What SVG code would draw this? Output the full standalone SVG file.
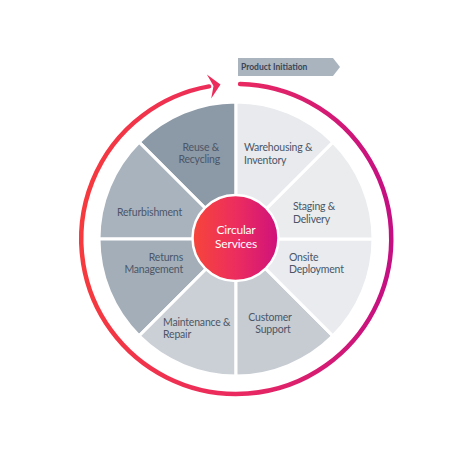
<svg xmlns="http://www.w3.org/2000/svg" width="474" height="474" viewBox="0 0 474 474">
<defs>
<linearGradient id="ringGrad" gradientUnits="userSpaceOnUse" x1="78" y1="0" x2="394" y2="0">
<stop offset="0" stop-color="#f63a3c"/>
<stop offset="0.5" stop-color="#ea2a60"/>
<stop offset="1" stop-color="#c40f83"/>
</linearGradient>
<linearGradient id="hubGrad" gradientUnits="userSpaceOnUse" x1="193" y1="0" x2="279" y2="0">
<stop offset="0" stop-color="#f6453a"/>
<stop offset="0.5" stop-color="#ec2d5e"/>
<stop offset="1" stop-color="#cf117c"/>
</linearGradient>
<style>
.seg{stroke:#ffffff;stroke-width:3;stroke-linejoin:round}
.lbl{font-family:Lato,"Open Sans",sans-serif;font-size:10.5px;letter-spacing:-0.2px;fill:#4b5667}
.hub{font-family:Lato,"Open Sans",sans-serif;font-size:12px;letter-spacing:-0.2px;fill:#ffffff;text-anchor:middle}
.tag{font-family:Lato,"Open Sans",sans-serif;font-size:8.5px;font-weight:bold;fill:#3a4556}
</style>
</defs>
<rect width="474" height="474" fill="#ffffff"/>
<g id="connectors">
<path d="M240.1,84.05 A155,155 0 1 1 209.1,86.4" fill="none" stroke="url(#ringGrad)" stroke-width="4.5" stroke-linecap="round"/>
<polygon points="206.9,74.5 220.5,84.4 211.2,98.5 213.5,86" fill="url(#ringGrad)"/>
</g>
<g id="product-initiation">
<polygon points="238,58 333,58 340,67 333,76 238,76" fill="#aab4bf"/>
<text class="tag" x="241" y="70">Product Initiation</text>
</g>
<g id="reuse-recycling">
<path class="seg" d="M236,239 L236,102 A137,137 0 0 0 139.13,142.13 Z" fill="#8c99a7"/>
<text class="lbl" text-anchor="end" x="219" y="150.5">Reuse &amp;</text>
<text class="lbl" text-anchor="end" x="220" y="163">Recycling</text>
</g>
<g id="refurbishment">
<path class="seg" d="M236,239 L139.13,142.13 A137,137 0 0 0 99,239 Z" fill="#a9b3be"/>
<text class="lbl" text-anchor="end" x="182" y="215.5">Refurbishment</text>
</g>
<g id="returns-management">
<path class="seg" d="M236,239 L99,239 A137,137 0 0 0 139.13,335.87 Z" fill="#a3aeb9"/>
<text class="lbl" text-anchor="end" x="183" y="260.5">Returns</text>
<text class="lbl" text-anchor="end" x="183" y="272.5">Management</text>
</g>
<g id="maintenance-repair">
<path class="seg" d="M236,239 L139.13,335.87 A137,137 0 0 0 236,376 Z" fill="#cbd0d6"/>
<text class="lbl" x="163" y="326">Maintenance &amp;</text>
<text class="lbl" x="163" y="338">Repair</text>
</g>
<g id="customer-support">
<path class="seg" d="M236,239 L236,376 A137,137 0 0 0 332.87,335.87 Z" fill="#c7ccd3"/>
<text class="lbl" text-anchor="middle" x="270" y="321">Customer</text>
<text class="lbl" text-anchor="middle" x="273" y="333">Support</text>
</g>
<g id="onsite-deployment">
<path class="seg" d="M236,239 L332.87,335.87 A137,137 0 0 0 373,239 Z" fill="#e9ebee"/>
<text class="lbl" x="289" y="260.5">Onsite</text>
<text class="lbl" x="289" y="272.5">Deployment</text>
</g>
<g id="staging-delivery">
<path class="seg" d="M236,239 L373,239 A137,137 0 0 0 332.87,142.13 Z" fill="#eaecee"/>
<text class="lbl" x="293" y="210">Staging &amp;</text>
<text class="lbl" x="293" y="222.5">Delivery</text>
</g>
<g id="warehousing-inventory">
<path class="seg" d="M236,239 L332.87,142.13 A137,137 0 0 0 236,102 Z" fill="#e8eaed"/>
<text class="lbl" x="244" y="151">Warehousing &amp;</text>
<text class="lbl" x="244" y="163.5">Inventory</text>
</g>
<g id="circular-services">
<circle cx="235.5" cy="238" r="43" fill="url(#hubGrad)" stroke="#ffffff" stroke-width="2.5"/>
<text class="hub" x="236" y="233.5">Circular</text>
<text class="hub" x="236" y="247.5">Services</text>
</g>
</svg>
